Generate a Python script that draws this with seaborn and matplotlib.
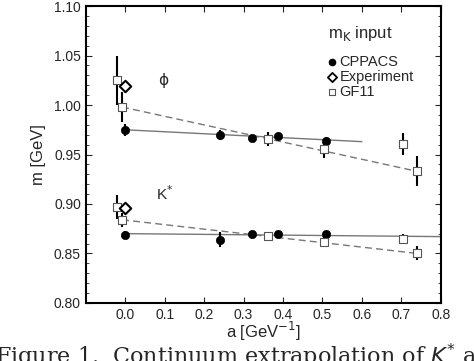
import numpy as np
import pandas as pd
import matplotlib
matplotlib.use("Agg")
import matplotlib.pyplot as plt
import seaborn as sns
from matplotlib.ticker import MultipleLocator

# =========================
# DATA
# =========================
# CPPACS, phi (upper) and K* (lower)
cp_a = [0.0, 0.241, 0.321, 0.387, 0.510]
cp_phi = [0.975, 0.970, 0.967, 0.969, 0.964]
cp_phi_err = [0.006, 0.005, 0.003, 0.003, 0.004]
cp_kst = [0.869, 0.864, 0.870, 0.870, 0.870]
cp_kst_err = [0.004, 0.008, 0.003, 0.003, 0.003]

# GF11
gf_a = [-0.021, -0.008, 0.362, 0.503, 0.704, 0.740]
gf_phi = [1.025, 0.998, 0.966, 0.956, 0.961, 0.933]
gf_phi_err = [0.025, 0.015, 0.007, 0.010, 0.011, 0.015]
gf_kst = [0.897, 0.884, 0.868, 0.862, 0.865, 0.850]
gf_kst_err = [0.012, 0.007, 0.004, 0.006, 0.005, 0.007]
gf_aerr = [0.0, 0.0, 0.008, 0.008, 0.008, 0.008]

# Experiment
exp_a = [0.0, 0.0]
exp_m = [1.0195, 0.8961]

# continuum fits (end points)
cp_fit_a = [0.0, 0.6]
cp_fit_phi = [0.975, 0.963]
cp_fit_kst_a = [0.0, 0.8]
cp_fit_kst = [0.870, 0.867]
gf_fit_a = [-0.008, 0.740]
gf_fit_phi = [0.998, 0.933]
gf_fit_kst = [0.884, 0.850]

# =========================
# PLOT
# =========================
sns.set_style("ticks")
plt.rcParams["font.family"] = ["Liberation Sans", "DejaVu Sans"]

fig = plt.figure(figsize=(4.74, 3.61), dpi=100)
ax = fig.add_axes([0.181, 0.161, 0.749, 0.822])

# fit lines
sns.lineplot(x=cp_fit_a, y=cp_fit_phi, color="#777777", lw=1.0, ax=ax)
sns.lineplot(x=cp_fit_kst_a, y=cp_fit_kst, color="#777777", lw=1.0, ax=ax)
sns.lineplot(x=gf_fit_a, y=gf_fit_phi, color="#777777", lw=1.0, ls=(0, (5, 3)), ax=ax)
sns.lineplot(x=gf_fit_a, y=gf_fit_kst, color="#777777", lw=1.0, ls=(0, (5, 3)), ax=ax)

# error bars
for m, e in [(cp_phi, cp_phi_err), (cp_kst, cp_kst_err)]:
    ax.errorbar(cp_a, m, yerr=e, fmt="none", ecolor="black", elinewidth=1.5, capsize=0)
for m, e in [(gf_phi, gf_phi_err), (gf_kst, gf_kst_err)]:
    ax.errorbar(gf_a, m, yerr=e, xerr=gf_aerr, fmt="none", ecolor="black", elinewidth=1.5, capsize=0)

# markers
sns.scatterplot(x=cp_a + cp_a, y=cp_phi + cp_kst, marker="o", s=36, color="black",
                edgecolor="black", ax=ax, zorder=5)
sns.scatterplot(x=gf_a + gf_a, y=gf_phi + gf_kst, marker="s", s=26, color="white",
                edgecolor="#555555", linewidth=0.8, ax=ax, zorder=5)
sns.scatterplot(x=exp_a, y=exp_m, marker="D", s=34, color="white",
                edgecolor="black", linewidth=1.5, ax=ax, zorder=5)

# labels
ax.text(0.097, 1.025, "ϕ", fontsize=11, ha="center", va="center", family="DejaVu Sans")
ax.text(0.10, 0.910, "K$^{*}$", fontsize=11, ha="center", va="center")
ax.text(0.515, 1.0727, "m$_{\\rm K}$ input", fontsize=12, ha="left", va="center")

# legend (manual, like the original)
leg_x = 0.525
for yy, mk, fc, ec, lab in [(1.0434, "o", "black", "black", "CPPACS"),
                            (1.0283, "D", "white", "black", "Experiment"),
                            (1.0131, "s", "white", "#555555", "GF11")]:
    ax.scatter([leg_x], [yy], marker=mk, s=22, c=fc, edgecolors=ec,
               linewidths=1.3 if mk == "D" else 0.8, zorder=6)
    ax.text(leg_x + 0.018, yy, lab, fontsize=10.5, ha="left", va="center")

ax.set_xlim(-0.1, 0.8)
ax.set_ylim(0.80, 1.10)
ax.yaxis.set_major_locator(MultipleLocator(0.05))
ax.yaxis.set_minor_locator(MultipleLocator(0.01))
ax.set_xticks([0.0, 0.1, 0.2, 0.3, 0.4, 0.5, 0.6, 0.7, 0.8])
ax.set_xticklabels(["0.0", "0.1", "0.2", "0.3", "0.4", "0.5", "0.6", "0.7", "0.8"])
ax.tick_params(which="both", direction="in", top=True, right=True, labelsize=10)
ax.tick_params(which="major", length=4, width=0.8)
ax.tick_params(which="minor", length=2, width=0.6)
for sp in ax.spines.values():
    sp.set_linewidth(1.5)
    sp.set_color("black")

ax.set_xlabel("a [GeV$^{-1}$]", fontsize=12, labelpad=-1)
ax.set_ylabel("m [GeV]", fontsize=12, labelpad=6)

fig.text(-0.01, -0.008, "Figure 1.  Continuum extrapolation of $K^{*}$ and",
         fontsize=16, family="DejaVu Serif", ha="left", va="baseline")

fig.savefig("out.png", dpi=100)
